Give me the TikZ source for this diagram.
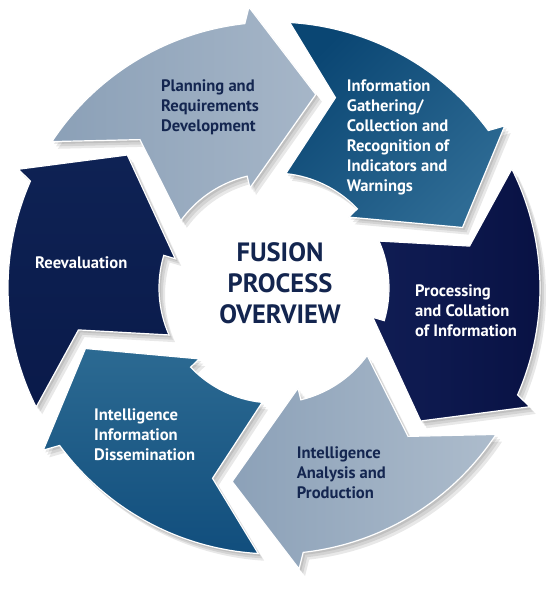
\documentclass[tikz,border=0pt]{standalone}
\usepackage{fontspec}
\setmainfont{PT Sans}
\definecolor{reevA}{HTML}{0E2254}
\definecolor{reevB}{HTML}{0A1A4A}
\definecolor{planA}{HTML}{8BA0B7}
\definecolor{planB}{HTML}{A6B6C8}
\definecolor{infoA}{HTML}{0A4673}
\definecolor{infoB}{HTML}{2E6B94}
\definecolor{procA}{HTML}{101D54}
\definecolor{procB}{HTML}{081143}
\definecolor{analA}{HTML}{8CA1B8}
\definecolor{analB}{HTML}{ADBCCC}
\definecolor{dissA}{HTML}{2C6A92}
\definecolor{dissB}{HTML}{114E7D}
\definecolor{labelnavy}{HTML}{142650}
\definecolor{centernavy}{HTML}{13254F}
\newcommand\arrowshape{(206.6:266) arc[start angle=206.6, end angle=156.3, radius=266pt] -- (155.1:282) -- (137.8:198) -- (163.5:103) -- (163.5:115) arc[start angle=163.5, end angle=204.1, radius=115pt] -- (192.1:200) -- cycle}
\begin{document}
\begin{tikzpicture}[x=1pt,y=1pt,
  arrowbox/.style={draw=white, line width=1.2pt},
  shadowbox/.style={fill=black, opacity=0.09},
  darklabel/.style={font=\fontsize{16.6}{20}\selectfont\bfseries, text=white, align=left, anchor=west, inner sep=0pt},
  lightlabel/.style={darklabel, text=labelnavy}]
\useasboundingbox (-274,-301) rectangle (276,288);
% shadows
\foreach \r in {0,-60,-120,-180,-240,-300}{
  \foreach \s in {2,4,6}{
    \fill[shadowbox, shift={(\s,-1.2*\s)}, rotate=\r] \arrowshape;
  }
}
% arrows
\path[arrowbox, rotate=0, top color=reevA, bottom color=reevB] \arrowshape;
\path[arrowbox, rotate=-60, left color=planA, right color=planB] \arrowshape;
\path[arrowbox, rotate=-120, top color=infoA, bottom color=infoB, shading angle=45] \arrowshape;
\path[arrowbox, rotate=-180, left color=procA, right color=procB] \arrowshape;
\path[arrowbox, rotate=-240, left color=analA, right color=analB] \arrowshape;
\path[arrowbox, rotate=-300, top color=dissA, bottom color=dissB] \arrowshape;
% labels
\node[lightlabel] (plan) at (-113,181) {Planning and\\Requirements\\Development};
\node[darklabel] (info) at (72.7,150.5) {Information\\Gathering/\\Collection and\\Recognition of\\Indicators and\\Warnings};
\node[darklabel] (reev) at (-239,25) {Reevaluation};
\node[darklabel] (proc) at (141,-23) {Processing\\and Collation\\of Information};
\node[lightlabel] (anal) at (22.7,-185) {Intelligence\\Analysis and\\Production};
\node[darklabel] (diss) at (-180,-147) {Intelligence\\Information\\Dissemination};
\node[font=\fontsize{26.5}{31}\selectfont\bfseries, text=centernavy, align=center, inner sep=0pt] (title) at (6,5) {FUSION\\PROCESS\\OVERVIEW};
\end{tikzpicture}
\end{document}
